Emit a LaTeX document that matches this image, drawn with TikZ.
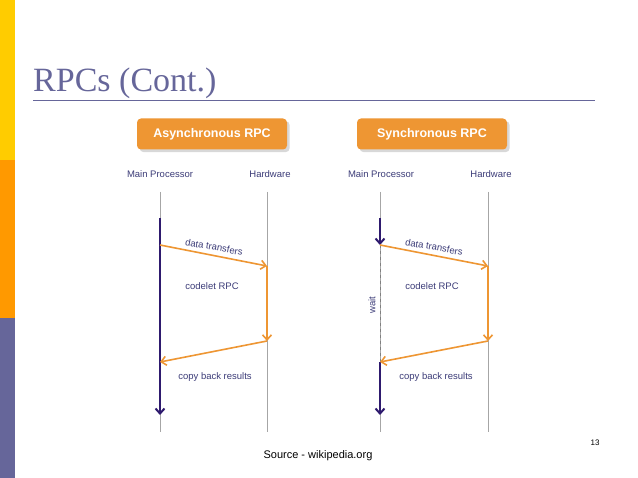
\documentclass[tikz,border=0pt]{standalone}
\usepackage{fontspec}
\setmainfont{Liberation Sans}
\newfontfamily\titlefont{Liberation Serif}
\usetikzlibrary{arrows.meta,shadows}
\definecolor{slate}{HTML}{66669A}
\definecolor{ink}{HTML}{3C3C78}
\definecolor{org}{HTML}{EE9633}
\definecolor{deep}{HTML}{2E1A6E}
\definecolor{sideyellow}{RGB}{255,204,0}
\definecolor{sideorange}{RGB}{255,153,0}
\begin{document}
\begin{tikzpicture}[x=1pt,y=-1pt,
  lbl/.style={font=\fontsize{9.5}{10}\selectfont, text=ink, inner sep=1pt},
  life/.style={draw=gray!70, line width=0.8pt},
  msg/.style={draw=org, line width=1.6pt, -{Straight Barb[length=5pt,width=9pt]}},
  main/.style={draw=deep, line width=2pt, -{Straight Barb[length=5pt,width=9pt]}},
  hdr/.style={fill=org, rounded corners=4pt, minimum width=150pt, minimum height=31pt, text=white, font=\bfseries\fontsize{12.5}{13}\selectfont, drop shadow={opacity=0.3}}]
\useasboundingbox (0,0) rectangle (638,478);
\fill[white] (0,0) rectangle (638,478);
\fill[fill=sideyellow] (0,0) rectangle (15,160);
\fill[fill=sideorange] (0,160) rectangle (15,318);
\fill[fill=slate] (0,318) rectangle (15,478);
\node[anchor=base west, text=slate, font=\titlefont\fontsize{34}{36}\selectfont, inner sep=0] (title) at (33,92) {RPCs (Cont.)};
\draw[slate, line width=1pt] (33,100.5) -- (595,100.5);
\node[hdr] (ha) at (212,134) {Asynchronous RPC};
\node[hdr] (hs) at (432,134) {Synchronous RPC};
\node[lbl] (mpa) at (160,174) {Main Processor};
\node[lbl] (hwa) at (270,174) {Hardware};
\node[lbl] (mps) at (381,174) {Main Processor};
\node[lbl] (hws) at (491,174) {Hardware};
\coordinate (a0) at (160,192); \coordinate (a9) at (160,432);
\coordinate (b0) at (267,192); \coordinate (b9) at (267,432);
\coordinate (c0) at (380,192); \coordinate (c9) at (380,432);
\coordinate (d0) at (488,192); \coordinate (d9) at (488,432);
\draw[life] (a0)--(a9); \draw[life] (b0)--(b9);
\draw[life] (c0)--(c9); \draw[life] (d0)--(d9);
\coordinate (a1) at (160,218); \coordinate (a2) at (160,245); \coordinate (a3) at (160,362); \coordinate (a4) at (160,415);
\coordinate (b1) at (267,266); \coordinate (b2) at (267,341);
\draw[main] (a1)--(a4);
\draw[msg] (a2)--(b1);
\draw[msg] (b1)--(b2);
\draw[msg] (b2)--(a3);
\node[lbl, rotate=-10] (dta) at (214,247) {data transfers};
\node[lbl] (cra) at (212,286) {codelet RPC};
\node[lbl] (cba) at (215,377) {copy back results};
\coordinate (c1) at (380,218); \coordinate (c2) at (380,245); \coordinate (c3) at (380,362); \coordinate (c4) at (380,415);
\coordinate (d1) at (488,266); \coordinate (d2) at (488,341);
\draw[main] (c1)--(c2);
\draw[gray, dashed, line width=0.7pt] (c2)--(c3);
\draw[main] (c3)--(c4);
\draw[msg] (c2)--(d1);
\draw[msg] (d1)--(d2);
\draw[msg] (d2)--(c3);
\node[lbl, rotate=-10] (dts) at (434,247) {data transfers};
\node[lbl] (crs) at (432,286) {codelet RPC};
\node[lbl] (cbs) at (436,377) {copy back results};
\node[lbl, rotate=90] (wait) at (372,305) {wait};
\node[font=\fontsize{8}{9}\selectfont] (pg) at (595,443) {13};
\node[font=\fontsize{11}{12}\selectfont] (src) at (318,456) {Source - wikipedia.org};
\end{tikzpicture}
\end{document}
